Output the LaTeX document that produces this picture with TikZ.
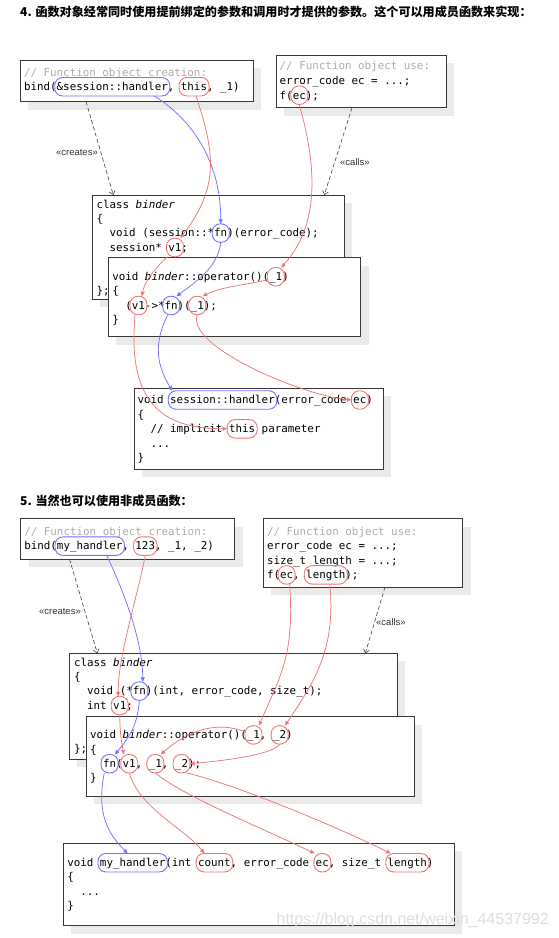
\documentclass[tikz,border=0pt]{standalone}
\usepackage{fontspec}
\setmainfont{Liberation Sans}
\newfontfamily\codefont{DejaVu Sans Mono}
\newfontfamily\cjkfont{Noto Sans CJK SC}
\usetikzlibrary{arrows.meta}
\definecolor{hlblue}{RGB}{115,115,255}
\definecolor{hlred}{RGB}{240,118,118}
\definecolor{shadowgray}{RGB}{234,234,234}
\definecolor{commentgray}{RGB}{172,172,172}
\definecolor{boxline}{RGB}{55,55,55}
\definecolor{wmgray}{RGB}{222,222,222}
\newcommand\cw{6.54}
\tikzset{
  codebox/.style={draw=boxline, fill=white, line width=0.8pt, inner sep=0pt, outer sep=0pt},
  codetext/.style={font=\codefont\fontsize{10.86}{13}\selectfont, inner sep=0pt, outer sep=0pt, text=black},
  comment/.style={codetext, text=commentgray},
  hl/.style={rounded corners=8pt, minimum height=18.5pt, inner sep=0pt, outer sep=0pt, line width=0.9pt},
  bconn/.style={draw=hlblue, line width=0.75pt, -{Triangle[length=4.5pt,width=4pt]}},
  rconn/.style={draw=hlred, line width=0.75pt, -{Triangle[length=4.5pt,width=4pt]}},
  dconn/.style={draw=black!75, line width=0.6pt, dash pattern=on 4pt off 2.5pt, -{Straight Barb[length=3.5pt,width=6pt]}},
  lbl/.style={font=\fontsize{9.5}{11}\selectfont, text=black!80, inner sep=0pt},
  head/.style={font=\cjkfont\bfseries\fontsize{12.1}{14}\selectfont, inner sep=0pt},
  wm/.style={font=\fontsize{16}{18}\selectfont, text=wmgray, inner sep=0pt}
}
% name, left, top, right, bottom
\newcommand\mkbox[5]{%
  \fill[shadowgray] (#2+8,#3+8) rectangle (#4+8,#5+8);
  \node[codebox, anchor=north west, minimum width={(#4-#2)*1pt}, minimum height={(#5-#3)*1pt}] (#1) at (#2,#3) {};
}
% name, style, x, baseline, text
\newcommand\mkline[5]{\node[#2, anchor=base west] (#1) at (#3,#4) {#5};}
% name, colour, x0, centre y, column, length
\newcommand\mkhl[6]{\node[hl, draw=#2, minimum width={(#6*\cw+4)*1pt}] (#1) at ({#3+(#5+#6/2)*\cw}, #4) {};}
\begin{document}
\begin{tikzpicture}[x=1pt, y=-1pt]
\fill[white] (0,0) rectangle (558,938);
\useasboundingbox (0,0) rectangle (558,938);

% ---------------- Section 4 ----------------
\node[head, anchor=base west] (h4) at (20,16.5) {4. 函数对象经常同时使用提前绑定的参数和调用时才提供的参数。这个可以用成员函数来实现：};

\mkbox{A1}{20}{60}{253}{101.5}
\mkbox{B1}{276}{55}{446}{107.7}
\mkbox{C1}{92.3}{195}{344}{299}
\mkbox{D1}{108.3}{257.7}{360.7}{336.7}
\mkbox{E1}{134}{388.3}{383.3}{469.3}

\mkline{a1l1}{comment}{24}{76.1}{// Function object creation:}
\mkline{a1l2}{codetext}{24}{90.5}{bind(\&session::handler, this, \_1)}
\mkline{b1l1}{comment}{279.7}{69.8}{// Function object use:}
\mkline{b1l2}{codetext}{279.7}{84.5}{error\_code ec = ...;}
\mkline{b1l3}{codetext}{279.7}{99}{f(ec);}
\mkline{c1l1}{codetext}{96.5}{208.1}{class \textit{binder}}
\mkline{c1l2}{codetext}{96.5}{222.5}{\{}
\mkline{c1l3}{codetext}{96.5}{236.9}{~~void (session::*fn)(error\_code);}
\mkline{c1l4}{codetext}{96.5}{251.3}{~~session* v1;}
\mkline{c1l7}{codetext}{96.5}{294.5}{\};}
\mkline{d1l1}{codetext}{112.3}{280.5}{void \textit{binder}::operator()(\_1)}
\mkline{d1l2}{codetext}{112.3}{294.9}{\{}
\mkline{d1l3}{codetext}{112.3}{309.3}{~~(v1->*fn)(\_1);}
\mkline{d1l4}{codetext}{112.3}{323.7}{\}}
\mkline{e1l1}{codetext}{137.5}{403.8}{void session::handler(error\_code ec)}
\mkline{e1l2}{codetext}{137.5}{418.2}{\{}
\mkline{e1l3}{codetext}{137.5}{432.6}{~~// implicit this parameter}
\mkline{e1l4}{codetext}{137.5}{447}{~~...}
\mkline{e1l5}{codetext}{137.5}{461.4}{\}}

\mkhl{hAh}{hlblue}{24}{86.7}{5}{17}
\mkhl{hAt}{hlred}{24}{86.7}{24}{4}
\mkhl{hBec}{hlred}{279.7}{95.2}{2}{2}
\mkhl{hCfn}{hlblue}{96.5}{233.1}{18}{2}
\mkhl{hCv}{hlred}{96.5}{247.5}{11}{2}
\mkhl{hDa}{hlred}{112.3}{276.7}{24}{2}
\mkhl{hDv}{hlred}{112.3}{305.5}{3}{2}
\mkhl{hDfn}{hlblue}{112.3}{305.5}{8}{2}
\mkhl{hDb}{hlred}{112.3}{305.5}{12}{2}
\mkhl{hEh}{hlblue}{137.5}{400}{5}{16}
\mkhl{hEec}{hlred}{137.5}{400}{33}{2}
\mkhl{hEt}{hlred}{137.5}{428.8}{14}{4}

\draw[dconn] ([xshift=66pt]A1.south west) -- ([xshift=21pt]C1.north west);
\node[lbl, anchor=east] (lcr1) at (98,152) {«creates»};
\draw[dconn] ([xshift=76pt]B1.south west) -- ([xshift=232pt]C1.north west);
\node[lbl, anchor=west] (lca1) at (340,162) {«calls»};

\draw[bconn] ([xshift=42pt]hAh.south) .. controls +(40,25) and +(0,-60) .. (hCfn.north);
\draw[rconn] ([xshift=2pt]hAt.south) .. controls +(20,60) and +(38,-50) .. (hCv.60);
\draw[rconn] (hBec.south) .. controls +(13,47) and +(44,-48) .. (hDa.60);
\draw[rconn] (hDa.200) .. controls +(-20,5) and +(20,-10) .. (hDb.60);
\draw[rconn] (hCv.230) .. controls +(-15,15) and +(3,-15) .. (hDv.70);
\draw[bconn] (hCfn.south) .. controls +(-3,25) and +(20,-15) .. (hDfn.60);
\draw[rconn] (hDv.250) .. controls +(-8,88) and +(-65,0) .. (hEt.west);
\draw[bconn] (hDfn.250) .. controls +(-15,30) and +(-15,-25) .. ([xshift=4pt]hEh.north west);
\draw[rconn] (hDb.south) .. controls +(-12,31) and +(-51,-5) .. (hEec.west);

% ---------------- Section 5 ----------------
\node[head, anchor=base west] (h5) at (20,505.6) {5. 当然也可以使用非成员函数：};

\mkbox{A2}{20.5}{518.5}{234.5}{559}
\mkbox{B2}{263}{518.5}{462.5}{587}
\mkbox{C2}{69.3}{653.3}{397.3}{759}
\mkbox{D2}{86}{716.7}{414}{796}
\mkbox{E2}{63.3}{843.3}{454.3}{925.7}

\mkline{a2l1}{comment}{24.3}{535.5}{// Function object creation:}
\mkline{a2l2}{codetext}{24.3}{549.9}{bind(my\_handler, 123, \_1, \_2)}
\mkline{b2l1}{comment}{267}{535.5}{// Function object use:}
\mkline{b2l2}{codetext}{267}{549.9}{error\_code ec = ...;}
\mkline{b2l3}{codetext}{267}{564.3}{size\_t length = ...;}
\mkline{b2l4}{codetext}{267}{578.7}{f(ec, length);}
\mkline{c2l1}{codetext}{74}{666.1}{class \textit{binder}}
\mkline{c2l2}{codetext}{74}{680.5}{\{}
\mkline{c2l3}{codetext}{74}{694.9}{~~void (*fn)(int, error\_code, size\_t);}
\mkline{c2l4}{codetext}{74}{709.3}{~~int v1;}
\mkline{c2l7}{codetext}{74}{752.5}{\};}
\mkline{d2l1}{codetext}{90}{738.7}{void \textit{binder}::operator()(\_1, \_2)}
\mkline{d2l2}{codetext}{90}{753.1}{\{}
\mkline{d2l3}{codetext}{90}{767.5}{~~fn(v1, \_1, \_2);}
\mkline{d2l4}{codetext}{90}{781.9}{\}}
\mkline{e2l1}{codetext}{67.3}{866.5}{void my\_handler(int count, error\_code ec, size\_t length)}
\mkline{e2l2}{codetext}{67.3}{880.9}{\{}
\mkline{e2l3}{codetext}{67.3}{895.3}{~~...}
\mkline{e2l4}{codetext}{67.3}{909.7}{\}}

\mkhl{gAmh}{hlblue}{24.3}{546.1}{5}{10}
\mkhl{gAn}{hlred}{24.3}{546.1}{17}{3}
\mkhl{gBec}{hlred}{267}{574.9}{2}{2}
\mkhl{gBlen}{hlred}{267}{574.9}{6}{6}
\mkhl{gCfn}{hlblue}{74}{691.1}{9}{2}
\mkhl{gCv}{hlred}{74}{705.5}{6}{2}
\mkhl{gDa}{hlred}{90}{734.9}{24}{2}
\mkhl{gDb}{hlred}{90}{734.9}{28}{2}
\mkhl{gDfn}{hlblue}{90}{763.7}{2}{2}
\mkhl{gDv}{hlred}{90}{763.7}{5}{2}
\mkhl{gDc}{hlred}{90}{763.7}{9}{2}
\mkhl{gDd}{hlred}{90}{763.7}{13}{2}
\mkhl{gEmh}{hlblue}{67.3}{862.7}{5}{10}
\mkhl{gEcnt}{hlred}{67.3}{862.7}{20}{5}
\mkhl{gEec}{hlred}{67.3}{862.7}{38}{2}
\mkhl{gElen}{hlred}{67.3}{862.7}{49}{6}

\draw[dconn] ([xshift=49pt]A2.south west) -- ([xshift=28pt]C2.north west);
\node[lbl, anchor=east] (lcr2) at (81,611) {«creates»};
\draw[dconn] ([xshift=122pt]B2.south west) -- ([xshift=296pt]C2.north west);
\node[lbl, anchor=west] (lca2) at (376,622) {«calls»};

\draw[bconn] ([xshift=17pt]gAmh.south) .. controls +(12,25) and +(0,-45) .. (gCfn.70);
\draw[rconn] (gAn.south) .. controls +(-10,50) and +(0,-40) .. (gCv.100);
\draw[rconn] ([xshift=3pt]gBec.south) .. controls +(5,70) and +(22,-50) .. (gDa.60);
\draw[rconn] ([xshift=4pt]gBlen.south) .. controls +(6,65) and +(30,-45) .. (gDb.60);
\draw[rconn] (gCv.south) .. controls +(0,15) and +(-3,-15) .. (gDv.120);
\draw[bconn] (gCfn.south) .. controls +(-2,25) and +(15,-18) .. (gDfn.60);
\draw[rconn] (gDa.160) .. controls +(-30,-12) and +(25,-22) .. (gDc.60);
\draw[rconn] (gDb.south) .. controls +(-5,9) and +(45,-4) .. (gDd.east);
\draw[bconn] (gDfn.240) .. controls +(-8,40) and +(-20,-20) .. ([xshift=-5pt]gEmh.north);
\draw[rconn] (gDv.south) .. controls +(10,35) and +(-20,-25) .. ([xshift=-10pt]gEcnt.north);
\draw[rconn] (gDc.south) .. controls +(25,22) and +(-45,-22) .. (gEec.130);
\draw[rconn] (gDd.300) .. controls +(50,12) and +(-50,-25) .. ([xshift=5pt]gElen.north west);

\node[wm, anchor=base east] (wmark) at (549,924) {https://blog.csdn.net/weixin\_44537992};
\end{tikzpicture}
\end{document}
